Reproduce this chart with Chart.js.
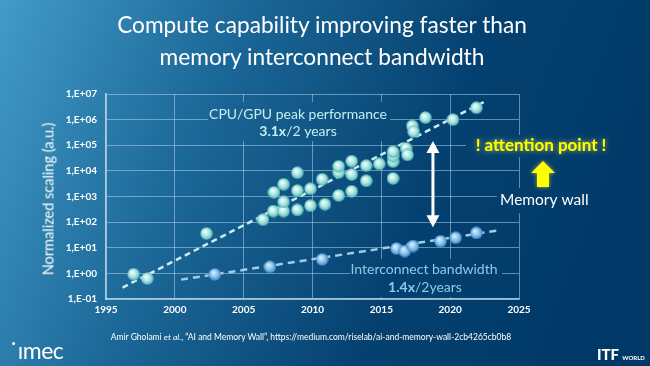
<!DOCTYPE html>
<html>
<head>
<meta charset="utf-8">
<script src="https://cdn.jsdelivr.net/npm/chart.js@4"></script>
<style>
  html, body { margin: 0; padding: 0; }
  body { width: 650px; height: 366px; overflow: hidden; position: relative; background: #0b4a7a; font-family: Lato, 'Open Sans', sans-serif; }
  #chart { position: absolute; left: 0; top: 0; }
  .txt { position: absolute; white-space: nowrap; color: #fff; }
  #title { left: 0; width: 644px; top: 9px; text-align: center; font-size: 22.7px; line-height: 32px; }
  #ytitle { left: 48px; top: 199px; font-size: 14.5px; transform: translate(-50%, -50%) rotate(-90deg); }
  #source { left: 0; width: 622px; top: 332px; text-align: center; font-size: 8.5px; }
  #imec { left: 9px; top: 336px; font-size: 23px; letter-spacing: -0.5px; }
  #itf { left: 597px; top: 345px; font-size: 15px; font-weight: 900; }
  #itf span { font-size: 6px; font-weight: 700; }
</style>
</head>
<body>
<canvas id="chart" width="650" height="366"></canvas>
<div class="txt" id="title">Compute capability improving faster than<br>memory interconnect bandwidth</div>
<div class="txt" id="ytitle">Normalized scaling (a.u.)</div>
<div class="txt" id="source">Amir Gholami <i>et al.</i>, “AI and Memory Wall”, https://medium.com/riselab/ai-and-memory-wall-2cb4265cb0b8</div>
<div class="txt" id="imec">&#729;ımec</div>
<div class="txt" id="itf">ITF <span>WORLD</span></div>
<script>
// Data
const computeYears = [1997.0, 1998.0, 2002.3, 2006.4, 2007.15, 2007.2, 2007.9, 2007.9, 2007.9,
  2008.9, 2008.9, 2008.9, 2009.85, 2009.85, 2010.7, 2010.9, 2011.9, 2011.9, 2011.9,
  2012.85, 2012.85, 2012.85, 2013.9, 2013.9, 2014.85, 2015.85, 2015.85, 2015.85, 2015.85,
  2016.8, 2016.9, 2017.25, 2017.35, 2018.2, 2020.2, 2021.9];
const computeValues = [0.93, 0.63, 36, 125, 270, 1450, 270, 620, 3000,
  300, 1700, 8500, 440, 2000, 4700, 500, 1100, 8700, 15000,
  1600, 7200, 24000, 4100, 16000, 18700, 5100, 23000, 38000, 56000,
  76000, 42000, 570000, 340000, 1200000, 1000000, 2900000];

const bandwidthYears = [2002.9, 2006.9, 2010.7, 2016.1, 2016.7, 2017.3, 2019.3, 2020.4, 2021.9];
const bandwidthValues = [0.91, 1.8, 3.5, 9.3, 7.4, 11.7, 18, 24.5, 38];

const computeTrendYears = [1996.2, 2022.6];
const computeTrendValues = [0.28, 5.4e6];
const bandwidthTrendYears = [2000.45, 2023.65];
const bandwidthTrendValues = [0.57, 49];

const wallYear = 2018.75;
const wallValues = [1.45e5, 63];

const xTickYears = [1995, 2000, 2005, 2010, 2015, 2020, 2025];
const yTickValues = [0.1, 1, 10, 100, 1e3, 1e4, 1e5, 1e6, 1e7];
const yTickLabels = ['1,E-01', '1,E+00', '1,E+01', '1,E+02', '1,E+03', '1,E+04', '1,E+05', '1,E+06', '1,E+07'];

const toPoints = (xs, ys) => xs.map((x, i) => ({ x, y: ys[i] }));

// Shaded ball used as point marker
function makeBall(light, mid, dark) {
    const c = document.createElement('canvas');
    c.width = c.height = 13;
    const g = c.getContext('2d');
    const grad = g.createRadialGradient(5, 4.5, 0.5, 6.5, 6.5, 6.5);
    grad.addColorStop(0, light);
    grad.addColorStop(0.55, mid);
    grad.addColorStop(1, dark);
    g.fillStyle = grad;
    g.beginPath();
    g.arc(6.5, 6.5, 6.2, 0, Math.PI * 2);
    g.fill();
    return c;
}
const greenBall = makeBall('#f0fffc', '#a8e4df', '#4eaeb2');
const blueBall = makeBall('#d8f0ff', '#86c2ea', '#3a82c4');

let bg;
function slideGradient(ctx) {
    if (!bg) {
        bg = ctx.createLinearGradient(0, 0, 620, 240);
        bg.addColorStop(0, '#429bc8');
        bg.addColorStop(0.35, '#1b6797');
        bg.addColorStop(0.7, '#054170');
        bg.addColorStop(1, '#003968');
    }
    return bg;
}

function mask(ctx, x1, y1, x2, y2) {
    ctx.fillStyle = slideGradient(ctx);
    ctx.fillRect(x1, y1, x2 - x1, y2 - y1);
}

// Text with a bold first part and regular rest, centred on cx
function mixedText(ctx, bold, rest, cx, cy, size, color) {
    ctx.font = `bold ${size}px Lato`;
    const w1 = ctx.measureText(bold).width;
    ctx.font = `${size}px Lato`;
    const w2 = ctx.measureText(rest).width;
    const x = cx - (w1 + w2) / 2;
    ctx.fillStyle = color;
    ctx.textAlign = 'left';
    ctx.font = `bold ${size}px Lato`;
    ctx.fillText(bold, x, cy);
    ctx.font = `${size}px Lato`;
    ctx.fillText(rest, x + w1, cy);
}

const slidePlugin = {
    id: 'slide',
    beforeDraw(chart) {
        const ctx = chart.ctx;
        ctx.save();
        ctx.fillStyle = slideGradient(ctx);
        ctx.fillRect(0, 0, chart.width, chart.height);
        ctx.restore();
    },
    beforeDatasetsDraw(chart) {
        const ctx = chart.ctx;
        ctx.save();
        mask(ctx, 208, 102, 390, 141);
        mask(ctx, 350, 259, 502, 297);
        mask(ctx, 466, 135, 617, 157);
        mask(ctx, 497, 188, 590, 213);
        ctx.textBaseline = 'middle';

        ctx.textAlign = 'center';
        ctx.fillStyle = '#c4eef0';
        ctx.font = '14px Lato';
        ctx.fillText('CPU/GPU peak performance', 298, 114);
        mixedText(ctx, '3.1x', '/2 years', 298, 131, 14, '#c4eef0');

        ctx.textAlign = 'center';
        ctx.fillStyle = '#8ec8ea';
        ctx.font = '14px Lato';
        ctx.fillText('Interconnect bandwidth', 424, 269);
        mixedText(ctx, '1.4x', '/2years', 425, 287, 14, '#8ec8ea');

        ctx.textAlign = 'left';
        ctx.fillStyle = '#ffffff';
        ctx.font = '15.5px Lato';
        ctx.fillText('Memory wall', 500, 200);

        ctx.textAlign = 'center';
        ctx.shadowColor = 'rgba(230, 230, 60, 0.8)';
        ctx.shadowBlur = 5;
        ctx.fillStyle = '#ffff00';
        ctx.font = 'bold 17px Lato';
        ctx.fillText('! attention point !', 541, 146);
        ctx.restore();
    },
    afterDatasetsDraw(chart) {
        const ctx = chart.ctx;
        const { x, y } = chart.scales;
        const ax = x.getPixelForValue(wallYear);
        const top = y.getPixelForValue(wallValues[0]);
        const bot = y.getPixelForValue(wallValues[1]);
        ctx.save();
        ctx.strokeStyle = '#ffffff';
        ctx.fillStyle = '#ffffff';
        ctx.lineWidth = 3;
        ctx.beginPath();
        ctx.moveTo(ax, top + 10);
        ctx.lineTo(ax, bot - 10);
        ctx.stroke();
        ctx.beginPath();
        ctx.moveTo(ax, top);
        ctx.lineTo(ax - 6.5, top + 12);
        ctx.lineTo(ax + 6.5, top + 12);
        ctx.closePath();
        ctx.fill();
        ctx.beginPath();
        ctx.moveTo(ax, bot);
        ctx.lineTo(ax - 6.5, bot - 12);
        ctx.lineTo(ax + 6.5, bot - 12);
        ctx.closePath();
        ctx.fill();

        // yellow block arrow
        ctx.shadowColor = 'rgba(230, 230, 60, 0.7)';
        ctx.shadowBlur = 4;
        ctx.fillStyle = '#ffff00';
        ctx.beginPath();
        ctx.moveTo(543, 161);
        ctx.lineTo(555, 173);
        ctx.lineTo(549, 173);
        ctx.lineTo(549, 187);
        ctx.lineTo(537, 187);
        ctx.lineTo(537, 173);
        ctx.lineTo(531, 173);
        ctx.closePath();
        ctx.fill();
        ctx.restore();
    }
};

const gridColor = 'rgba(190, 220, 240, 0.5)';

new Chart(document.getElementById('chart'), {
    type: 'scatter',
    data: {
        datasets: [
            {
                data: toPoints(computeYears, computeValues),
                pointStyle: greenBall,
                pointRadius: 6,
                order: 0
            },
            {
                data: toPoints(bandwidthYears, bandwidthValues),
                pointStyle: blueBall,
                pointRadius: 6,
                order: 0
            },
            {
                data: toPoints(computeTrendYears, computeTrendValues),
                showLine: true,
                borderColor: '#c8eef0',
                borderWidth: 2.5,
                borderDash: [6, 4],
                pointRadius: 0,
                order: 2
            },
            {
                data: toPoints(bandwidthTrendYears, bandwidthTrendValues),
                showLine: true,
                borderColor: '#9dcdeb',
                borderWidth: 2.5,
                borderDash: [7, 5],
                pointRadius: 0,
                order: 2
            }
        ]
    },
    options: {
        responsive: false,
        animation: false,
        events: [],
        layout: { padding: { top: 94, right: 131, bottom: 45, left: 0 } },
        plugins: {
            legend: { display: false },
            tooltip: { enabled: false }
        },
        scales: {
            x: {
                type: 'linear',
                min: 1995,
                max: 2025,
                afterBuildTicks: axis => { axis.ticks = xTickYears.map(v => ({ value: v })); },
                afterFit: axis => { axis.height = 22; },
                grid: { color: gridColor, lineWidth: 1, drawTicks: false },
                border: { color: 'rgba(200, 225, 240, 0.8)', width: 1.5 },
                ticks: {
                    padding: 5,
                    color: '#ffffff',
                    font: { family: 'Lato', size: 10, weight: 'bold' },
                    callback: v => String(v)
                }
            },
            y: {
                type: 'logarithmic',
                min: 0.1,
                max: 1e7,
                afterBuildTicks: axis => { axis.ticks = yTickValues.map(v => ({ value: v })); },
                afterFit: axis => { axis.width = 106; },
                grid: { color: gridColor, lineWidth: 1, drawTicks: false },
                border: { color: 'rgba(200, 225, 240, 0.8)', width: 1.5 },
                ticks: {
                    padding: 9,
                    color: '#ffffff',
                    font: { family: 'Lato', size: 10, weight: 'bold' },
                    callback: v => yTickLabels[yTickValues.indexOf(v)]
                }
            }
        }
    },
    plugins: [slidePlugin]
});
</script>
</body>
</html>
